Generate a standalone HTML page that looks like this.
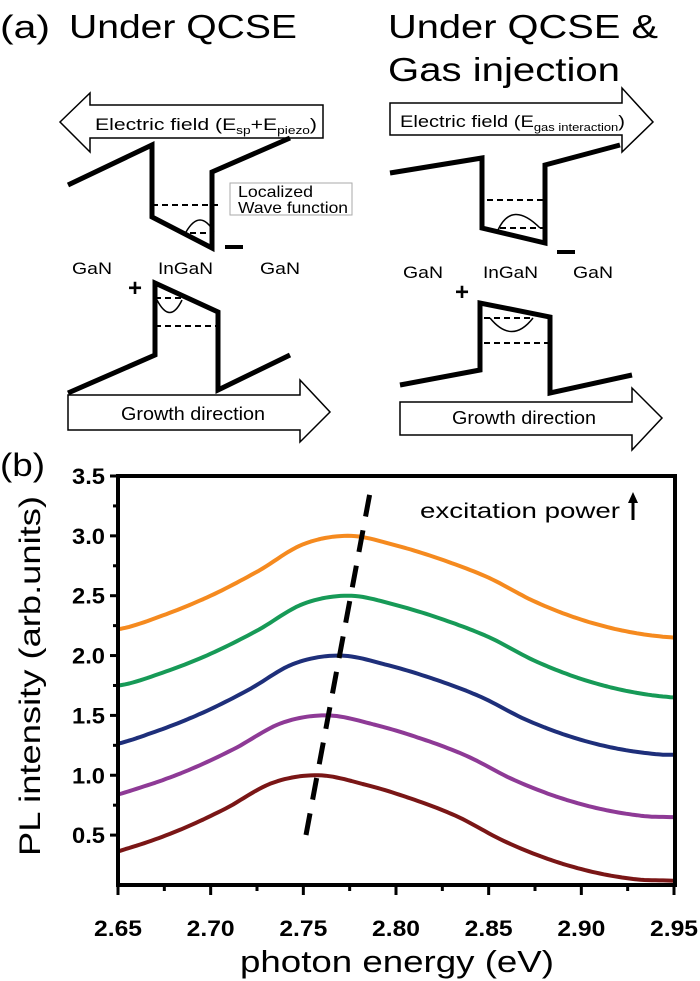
<!DOCTYPE html>
<html><head><meta charset="utf-8"><style>
html,body{margin:0;padding:0;background:#fff;}
svg{display:block;font-family:"Liberation Sans",Arial,sans-serif;}
</style></head><body>
<svg id="s" width="700" height="981" viewBox="0 0 700 981" xmlns="http://www.w3.org/2000/svg">
<text x="0" y="38" font-size="32" textLength="50" lengthAdjust="spacingAndGlyphs">(a)</text>
<text x="69" y="38" font-size="33" textLength="228" lengthAdjust="spacingAndGlyphs">Under QCSE</text>
<text x="388" y="38" font-size="33" textLength="270" lengthAdjust="spacingAndGlyphs">Under QCSE &amp;</text>
<text x="388" y="81" font-size="33" textLength="232" lengthAdjust="spacingAndGlyphs">Gas injection</text>

<g fill="none" stroke="#000">
<path d="M60,122 L90,93 L90,105 L323,105 L323,138 L90,138 L90,152 Z" stroke-width="1.5" fill="#fff"/>
<path d="M68,185 L152,145 L152,217 L212,248 L212,172 L290,138" stroke-width="5" stroke-linejoin="miter"/>
<path d="M152,205 L222,205 M190,233 L212,233" stroke-width="2" stroke-dasharray="6,4"/>
<path d="M186,232 Q200,208 214,232" stroke-width="1.5"/>
<rect x="230" y="183" width="122" height="32" stroke="#aaa" stroke-width="1"/>
<path d="M68,393 L155,355 L155,283 L218,312 L218,390 L290,355" stroke-width="5"/>
<path d="M155,298 L185,298 M155,326 L217,326" stroke-width="2" stroke-dasharray="6,4"/>
<path d="M157,300 Q170,325 182,300" stroke-width="1.5"/>
<path d="M68,395 L300,395 L300,380 L330,412 L300,442 L300,430 L68,430 Z" stroke-width="1.5" fill="#fff"/>

<path d="M390,103 L622,103 L622,88 L653,122 L622,152 L622,135 L390,135 Z" stroke-width="1.5" fill="#fff"/>
<path d="M390,173 L482,158 L482,228 L545,243 L545,165 L620,145" stroke-width="5"/>
<path d="M487,200 L545,200 M500,228 L545,228" stroke-width="2" stroke-dasharray="6,4"/>
<path d="M498,230 Q512,200 540,228" stroke-width="1.5"/>
<path d="M400,385 L480,370 L480,303 L550,317 L550,393 L632,375" stroke-width="5"/>
<path d="M484,318 L530,318 M484,343 L548,343" stroke-width="2" stroke-dasharray="6,4"/>
<path d="M490,318 Q512,345 533,318" stroke-width="1.5"/>
<path d="M400,402 L632,402 L632,388 L662,418 L632,450 L632,435 L400,435 Z" stroke-width="1.5" fill="#fff"/>
</g>
<text x="95" y="130" font-size="17" textLength="222" lengthAdjust="spacingAndGlyphs">Electric field (E<tspan font-size="11" dy="4">sp</tspan><tspan dy="-4">+E</tspan><tspan font-size="11" dy="4">piezo</tspan><tspan dy="-4">)</tspan></text>
<text x="238" y="197" font-size="16" textLength="75" lengthAdjust="spacingAndGlyphs">Localized</text>
<text x="238" y="213" font-size="16" textLength="110" lengthAdjust="spacingAndGlyphs">Wave function</text>
<rect x="225" y="245" width="18" height="4" fill="#000"/>
<text x="72" y="274" font-size="17" textLength="40" lengthAdjust="spacingAndGlyphs">GaN</text>
<text x="158" y="274" font-size="17" textLength="55" lengthAdjust="spacingAndGlyphs">InGaN</text>
<text x="260" y="274" font-size="17" textLength="40" lengthAdjust="spacingAndGlyphs">GaN</text>
<text x="128" y="296" font-size="24" font-weight="bold">+</text>
<text x="121" y="420" font-size="18" textLength="144" lengthAdjust="spacingAndGlyphs">Growth direction</text>
<text x="400" y="127" font-size="17" textLength="225" lengthAdjust="spacingAndGlyphs">Electric field (E<tspan font-size="11" dy="4">gas interaction</tspan><tspan dy="-4">)</tspan></text>
<rect x="557" y="250" width="18" height="4" fill="#000"/>
<text x="403" y="278" font-size="17" textLength="40" lengthAdjust="spacingAndGlyphs">GaN</text>
<text x="483" y="278" font-size="17" textLength="55" lengthAdjust="spacingAndGlyphs">InGaN</text>
<text x="573" y="278" font-size="17" textLength="40" lengthAdjust="spacingAndGlyphs">GaN</text>
<text x="455" y="300" font-size="24" font-weight="bold">+</text>
<text x="452" y="424" font-size="18" textLength="144" lengthAdjust="spacingAndGlyphs">Growth direction</text>

<text x="0" y="476" font-size="32" textLength="45" lengthAdjust="spacingAndGlyphs">(b)</text>
<g id="plot"></g>
<rect x="118" y="476" width="557" height="409" fill="none" stroke="#000" stroke-width="4"/>
<text x="420" y="518" font-size="21" textLength="200" lengthAdjust="spacingAndGlyphs">excitation power</text>
<path d="M633,520 L633,500" stroke="#000" stroke-width="3"/>
<path d="M628,503 L633,492 L638,503 Z" fill="#000"/>
<path d="M306,835 L372,482" stroke="#000" stroke-width="5" stroke-dasharray="22,14"/>
<text transform="translate(40,676) rotate(-90)" font-size="30" text-anchor="middle" textLength="360" lengthAdjust="spacingAndGlyphs">PL intensity (arb.units)</text>
<text x="397" y="972" font-size="31" text-anchor="middle" textLength="314" lengthAdjust="spacingAndGlyphs">photon energy  (eV)</text>
<g id="ticks" font-size="22" font-weight="bold"></g>
</svg>
<script>
var NS="http://www.w3.org/2000/svg";
function Y(v){return 476+(3.5-v)*119.7;}
function X(e){return 118+(e-2.65)/0.3*556;}
var tk=document.getElementById("ticks");
function el(n,a,p,t){var e=document.createElementNS(NS,n);for(var k in a)e.setAttribute(k,a[k]);if(t)e.textContent=t;p.appendChild(e);return e;}
for(var i=0;i<=6;i++){var v=0.5+i*0.5;var y=Y(v);
 el("line",{x1:110,x2:118,y1:y,y2:y,stroke:"#000","stroke-width":3},tk);
 el("text",{x:72,y:y+8,textLength:33,lengthAdjust:"spacingAndGlyphs"},tk,v.toFixed(1));
 if(i<6)el("line",{x1:113,x2:118,y1:Y(v+0.25),y2:Y(v+0.25),stroke:"#000","stroke-width":3},tk);}
for(var i=0;i<=6;i++){var e=2.65+i*0.05;var x=X(e);
 el("line",{x1:x,x2:x,y1:885,y2:895,stroke:"#000","stroke-width":3},tk);
 el("text",{x:x-24,y:936,textLength:48,lengthAdjust:"spacingAndGlyphs"},tk,e.toFixed(2));
 if(i<6)el("line",{x1:X(e+0.025),x2:X(e+0.025),y1:885,y2:891,stroke:"#000","stroke-width":3},tk);}
var pts=[[2.65,2.22],[2.675,2.34],[2.70,2.5],[2.725,2.7],[2.75,2.93],[2.775,3.0],[2.80,2.92],[2.825,2.8],[2.85,2.65],[2.875,2.45],[2.90,2.3],[2.925,2.2],[2.95,2.15]];
function P(i){return pts[Math.max(0,Math.min(pts.length-1,i))][1];}
function interp(e){var f=(e-2.65)/0.025;var i=Math.floor(f);if(i>=pts.length-1){return pts[pts.length-1][1];}if(i<0)return pts[0][1];var t=f-i;
 var p0=P(i-1),p1=P(i),p2=P(i+1),p3=P(i+2);
 return 0.5*((2*p1)+(-p0+p2)*t+(2*p0-5*p1+4*p2-p3)*t*t+(-p0+3*p1-3*p2+p3)*t*t*t);}
var series=[["#f58a1f",0,0,0,2.22,2.15],["#179a57",-0.5,0,0,1.75,1.65],["#1e2f7a",-1.0,-0.005,0,1.25,1.17],["#8e3a96",-1.5,-0.012,0,0.8,0.65],["#7a1616",-2.0,-0.017,0,0.3,0.12]];
var pl=document.getElementById("plot");
series.forEach(function(s){var d="";for(var k=0;k<=150;k++){var e=2.65+0.3*k/150;var sh=e-s[2];if(sh<2.65)sh=2.65;var b=interp(sh);
 var frac=(b-2.18)/(3.0-2.18); var startAdj=(s[4]-(2.22+s[1])); var endAdj=(s[5]-(2.15+s[1]));
 var ee=(e-2.65)/0.3; var adj=(1-frac)*((1-ee)*startAdj+ee*endAdj);
 var v=b+s[1]+adj;
 d+=(k?"L":"M")+X(e).toFixed(1)+","+Y(v).toFixed(1);}
 el("path",{d:d,fill:"none",stroke:s[0],"stroke-width":4,"stroke-linejoin":"round"},pl);});
</script>
</body></html>
